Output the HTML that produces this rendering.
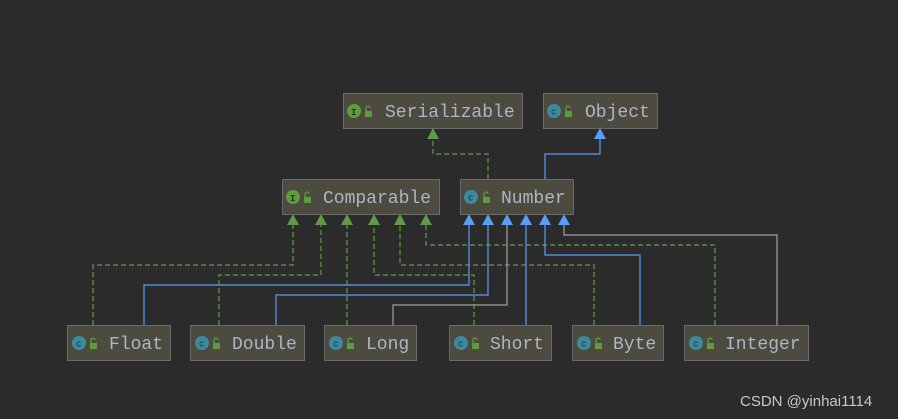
<!DOCTYPE html>
<html><head><meta charset="utf-8"><style>
html,body{margin:0;padding:0;background:#2b2b2b;}
svg{display:block}
text{font-family:"Liberation Mono",monospace;font-size:18px;fill:#a9b7c6}
</style></head><body>
<svg width="898" height="419" viewBox="0 0 898 419" xmlns="http://www.w3.org/2000/svg">
<rect width="898" height="419" fill="#2b2b2b"/>
<defs>
<g id="lock"><rect x="-3" y="-1" width="7" height="6" fill="#5e9d3c"/><path d="M-2,-1 v-3 a2,2 0 0 1 4,0" fill="none" stroke="#5e9d3c" stroke-width="1.3"/></g>
</defs>
<!-- green dashed -->
<g fill="none" stroke="#5f9a48" stroke-width="1.2" stroke-dasharray="5,3">
<path d="M488,179 V154 H433 V138"/>
<path d="M93,325 V265 H293 V224"/>
<path d="M219,325 V275 H321 V224"/>
<path d="M347,325 V224"/>
<path d="M474,325 V275 H374 V224"/>
<path d="M594,325 V265 H400 V224"/>
<path d="M715,325 V245 H426 V224"/>
</g>
<!-- blue / grey solid -->
<g fill="none" stroke-width="1.2">
<path d="M545,179 V154 H600 V138" stroke="#589df6"/>
<path d="M144,325 V285 H469 V224" stroke="#589df6"/>
<path d="M276,325 V295 H488 V224" stroke="#589df6"/>
<path d="M393,325 V305 H507 V224" stroke="#a0a0a0"/>
<path d="M526,325 V224" stroke="#589df6"/>
<path d="M640,325 V255 H545 V224" stroke="#589df6"/>
<path d="M777,325 V235 H564 V224" stroke="#a0a0a0"/>
</g>
<!-- arrowheads -->
<g fill="#5f9a48">
<path d="M433,128 l-6,11 h12 z"/>
<path d="M293,214 l-6,11 h12 z"/><path d="M321,214 l-6,11 h12 z"/><path d="M347,214 l-6,11 h12 z"/>
<path d="M374,214 l-6,11 h12 z"/><path d="M400,214 l-6,11 h12 z"/><path d="M426,214 l-6,11 h12 z"/>
</g>
<g fill="#589df6">
<path d="M600,128 l-6,11 h12 z"/>
<path d="M469,214 l-6,11 h12 z"/><path d="M488,214 l-6,11 h12 z"/><path d="M507,214 l-6,11 h12 z"/>
<path d="M526,214 l-6,11 h12 z"/><path d="M545,214 l-6,11 h12 z"/><path d="M564,214 l-6,11 h12 z"/>
</g>
<!-- boxes -->
<g fill="#4d4a3f" stroke="#6a6a6a" stroke-width="1">
<rect x="343.5" y="93.5" width="179" height="35"/>
<rect x="543.5" y="93.5" width="114" height="35"/>
<rect x="282.5" y="179.5" width="157" height="35"/>
<rect x="460.5" y="179.5" width="113" height="35"/>
<rect x="67.5" y="325.5" width="103" height="35"/>
<rect x="190.5" y="325.5" width="114" height="35"/>
<rect x="324.5" y="325.5" width="92" height="35"/>
<rect x="449.5" y="325.5" width="102" height="35"/>
<rect x="572.5" y="325.5" width="91" height="35"/>
<rect x="684.5" y="325.5" width="124" height="35"/>
</g>
<!-- icons -->
<g>
<circle cx="354" cy="111" r="7" fill="#5e9d3c"/><text x="351" y="115" style="font-size:9px;fill:#2b2b2b;font-weight:bold">I</text><use href="#lock" x="368" y="112"/>
<circle cx="554" cy="111" r="7" fill="#3b8aa0"/><text x="551" y="114.5" style="font-size:9px;fill:#2b2b2b">c</text><use href="#lock" x="568" y="112"/>
<circle cx="293" cy="197" r="7" fill="#5e9d3c"/><text x="290" y="201" style="font-size:9px;fill:#2b2b2b;font-weight:bold">I</text><use href="#lock" x="307" y="198"/>
<circle cx="471" cy="197" r="7" fill="#3b8aa0"/><text x="468" y="200.5" style="font-size:9px;fill:#2b2b2b">c</text><use href="#lock" x="486" y="198"/>
<circle cx="79" cy="343" r="7" fill="#3b8aa0"/><text x="76" y="346.5" style="font-size:9px;fill:#2b2b2b">c</text><use href="#lock" x="93" y="344"/>
<circle cx="202" cy="343" r="7" fill="#3b8aa0"/><text x="199" y="346.5" style="font-size:9px;fill:#2b2b2b">c</text><use href="#lock" x="216" y="344"/>
<circle cx="336" cy="343" r="7" fill="#3b8aa0"/><text x="333" y="346.5" style="font-size:9px;fill:#2b2b2b">c</text><use href="#lock" x="350" y="344"/>
<circle cx="461" cy="343" r="7" fill="#3b8aa0"/><text x="458" y="346.5" style="font-size:9px;fill:#2b2b2b">c</text><use href="#lock" x="475" y="344"/>
<circle cx="584" cy="343" r="7" fill="#3b8aa0"/><text x="581" y="346.5" style="font-size:9px;fill:#2b2b2b">c</text><use href="#lock" x="598" y="344"/>
<circle cx="696" cy="343" r="7" fill="#3b8aa0"/><text x="693" y="346.5" style="font-size:9px;fill:#2b2b2b">c</text><use href="#lock" x="710" y="344"/>
</g>
<!-- labels -->
<text x="385" y="117">Serializable</text>
<text x="585" y="117">Object</text>
<text x="323" y="203">Comparable</text>
<text x="501" y="203">Number</text>
<text x="109" y="349">Float</text>
<text x="232" y="349">Double</text>
<text x="366" y="349">Long</text>
<text x="490" y="349">Short</text>
<text x="613" y="349">Byte</text>
<text x="725" y="349">Integer</text>
<text x="740" y="406" style="font-family:'Liberation Sans',sans-serif;font-size:15px;fill:#c8c8c8">CSDN @yinhai1114</text>
</svg>
</body></html>
